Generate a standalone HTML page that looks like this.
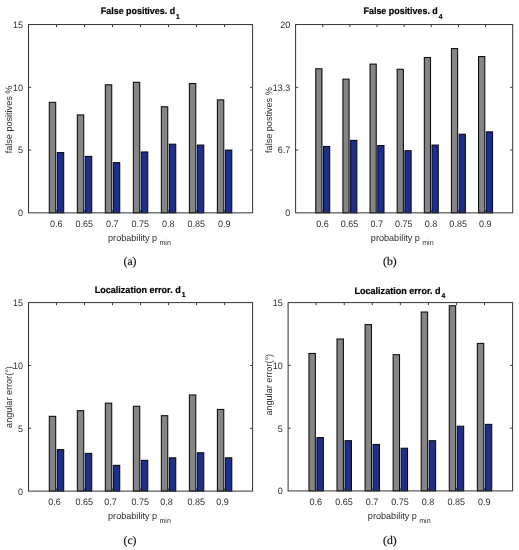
<!DOCTYPE html>
<html><head><meta charset="utf-8"><title>Figure</title>
<style>
html,body{margin:0;padding:0;background:#fff;}
svg{display:block;}
text{font-family:"Liberation Sans",sans-serif;fill:#2e2e2e;text-rendering:geometricPrecision;}
.tk{font-size:9.4px;}
.lb{font-size:9.4px;}
.sb{font-size:7.3px;}
.tt{font-size:9.4px;font-weight:bold;fill:#000;stroke:#000;stroke-width:0.2px;}
.ts{font-size:7.1px;font-weight:bold;}
.cp{font-family:"Liberation Serif",serif;font-size:11.7px;fill:#111;stroke:#111;stroke-width:0.18px;}
</style></head><body>
<svg width="519" height="550" viewBox="0 0 519 550">
<rect width="519" height="550" fill="#fff"/>
<g><rect x="49.31" y="102.38" width="6.40" height="110.47" fill="#858585" stroke="#0a0a0a" stroke-width="1.05"/>
<rect x="57.31" y="152.59" width="6.40" height="60.26" fill="#1a2e93" stroke="#0a0a0a" stroke-width="1.05"/>
<rect x="77.32" y="114.93" width="6.40" height="97.92" fill="#858585" stroke="#0a0a0a" stroke-width="1.05"/>
<rect x="85.33" y="156.36" width="6.40" height="56.49" fill="#1a2e93" stroke="#0a0a0a" stroke-width="1.05"/>
<rect x="105.33" y="84.81" width="6.40" height="128.04" fill="#858585" stroke="#0a0a0a" stroke-width="1.05"/>
<rect x="113.34" y="162.64" width="6.40" height="50.21" fill="#1a2e93" stroke="#0a0a0a" stroke-width="1.05"/>
<rect x="133.35" y="82.30" width="6.40" height="130.55" fill="#858585" stroke="#0a0a0a" stroke-width="1.05"/>
<rect x="141.35" y="151.97" width="6.40" height="60.88" fill="#1a2e93" stroke="#0a0a0a" stroke-width="1.05"/>
<rect x="161.36" y="106.77" width="6.40" height="106.08" fill="#858585" stroke="#0a0a0a" stroke-width="1.05"/>
<rect x="169.36" y="144.18" width="6.40" height="68.67" fill="#1a2e93" stroke="#0a0a0a" stroke-width="1.05"/>
<rect x="189.37" y="83.55" width="6.40" height="129.30" fill="#858585" stroke="#0a0a0a" stroke-width="1.05"/>
<rect x="197.38" y="145.06" width="6.40" height="67.79" fill="#1a2e93" stroke="#0a0a0a" stroke-width="1.05"/>
<rect x="217.38" y="99.87" width="6.40" height="112.98" fill="#858585" stroke="#0a0a0a" stroke-width="1.05"/>
<rect x="225.39" y="150.08" width="6.40" height="62.77" fill="#1a2e93" stroke="#0a0a0a" stroke-width="1.05"/>
<rect x="28.50" y="24.55" width="224.10" height="188.30" fill="none" stroke="#333" stroke-width="1.0"/>
<path d="M56.51 212.85v-2.6M56.51 24.55v2.6" stroke="#333" stroke-width="0.95"/>
<text transform="translate(56.21 226.85) scale(0.96 1)" text-anchor="middle" class="tk">0.6</text>
<path d="M84.53 212.85v-2.6M84.53 24.55v2.6" stroke="#333" stroke-width="0.95"/>
<text transform="translate(84.23 226.85) scale(0.96 1)" text-anchor="middle" class="tk">0.65</text>
<path d="M112.54 212.85v-2.6M112.54 24.55v2.6" stroke="#333" stroke-width="0.95"/>
<text transform="translate(112.24 226.85) scale(0.96 1)" text-anchor="middle" class="tk">0.7</text>
<path d="M140.55 212.85v-2.6M140.55 24.55v2.6" stroke="#333" stroke-width="0.95"/>
<text transform="translate(140.25 226.85) scale(0.96 1)" text-anchor="middle" class="tk">0.75</text>
<path d="M168.56 212.85v-2.6M168.56 24.55v2.6" stroke="#333" stroke-width="0.95"/>
<text transform="translate(168.26 226.85) scale(0.96 1)" text-anchor="middle" class="tk">0.8</text>
<path d="M196.57 212.85v-2.6M196.57 24.55v2.6" stroke="#333" stroke-width="0.95"/>
<text transform="translate(196.27 226.85) scale(0.96 1)" text-anchor="middle" class="tk">0.85</text>
<path d="M224.59 212.85v-2.6M224.59 24.55v2.6" stroke="#333" stroke-width="0.95"/>
<text transform="translate(224.29 226.85) scale(0.96 1)" text-anchor="middle" class="tk">0.9</text>
<text transform="translate(23.10 216.25) scale(0.96 1)" text-anchor="end" class="tk">0</text>
<path d="M28.50 150.08h2.6M252.60 150.08h-2.6" stroke="#333" stroke-width="0.95"/>
<text transform="translate(23.10 153.48) scale(0.96 1)" text-anchor="end" class="tk">5</text>
<path d="M28.50 87.32h2.6M252.60 87.32h-2.6" stroke="#333" stroke-width="0.95"/>
<text transform="translate(23.10 90.72) scale(0.96 1)" text-anchor="end" class="tk">10</text>
<text transform="translate(23.10 27.95) scale(0.96 1)" text-anchor="end" class="tk">15</text>
<text transform="translate(108.05 240.65) scale(0.97 1)" class="lb">probability p<tspan dx="2.4" dy="4.2" class="sb">min</tspan></text>
<text transform="translate(11.90 119.50) rotate(-90) scale(0.97 1)" text-anchor="middle" class="lb">false positives %</text>
<text transform="translate(100.85 14.45) scale(0.95 1)" class="tt">False positives. d<tspan dx="1.0" dy="4.6" class="ts">1</tspan></text>
<text x="130.00" y="265.45" text-anchor="middle" class="cp">(a)</text></g>
<g><rect x="315.76" y="68.80" width="6.20" height="144.05" fill="#858585" stroke="#0a0a0a" stroke-width="1.05"/>
<rect x="323.51" y="146.47" width="6.20" height="66.38" fill="#1a2e93" stroke="#0a0a0a" stroke-width="1.05"/>
<rect x="342.90" y="79.16" width="6.20" height="133.69" fill="#858585" stroke="#0a0a0a" stroke-width="1.05"/>
<rect x="350.65" y="140.35" width="6.20" height="72.50" fill="#1a2e93" stroke="#0a0a0a" stroke-width="1.05"/>
<rect x="370.03" y="64.09" width="6.20" height="148.76" fill="#858585" stroke="#0a0a0a" stroke-width="1.05"/>
<rect x="377.79" y="145.53" width="6.20" height="67.32" fill="#1a2e93" stroke="#0a0a0a" stroke-width="1.05"/>
<rect x="397.17" y="69.27" width="6.20" height="143.58" fill="#858585" stroke="#0a0a0a" stroke-width="1.05"/>
<rect x="404.93" y="150.71" width="6.20" height="62.14" fill="#1a2e93" stroke="#0a0a0a" stroke-width="1.05"/>
<rect x="424.31" y="57.50" width="6.20" height="155.35" fill="#858585" stroke="#0a0a0a" stroke-width="1.05"/>
<rect x="432.06" y="145.06" width="6.20" height="67.79" fill="#1a2e93" stroke="#0a0a0a" stroke-width="1.05"/>
<rect x="451.45" y="48.56" width="6.20" height="164.29" fill="#858585" stroke="#0a0a0a" stroke-width="1.05"/>
<rect x="459.20" y="134.23" width="6.20" height="78.62" fill="#1a2e93" stroke="#0a0a0a" stroke-width="1.05"/>
<rect x="478.58" y="56.56" width="6.20" height="156.29" fill="#858585" stroke="#0a0a0a" stroke-width="1.05"/>
<rect x="486.34" y="131.88" width="6.20" height="80.97" fill="#1a2e93" stroke="#0a0a0a" stroke-width="1.05"/>
<rect x="295.60" y="24.55" width="217.10" height="188.30" fill="none" stroke="#333" stroke-width="1.0"/>
<path d="M322.74 212.85v-2.6M322.74 24.55v2.6" stroke="#333" stroke-width="0.95"/>
<text transform="translate(322.44 226.85) scale(0.96 1)" text-anchor="middle" class="tk">0.6</text>
<path d="M349.88 212.85v-2.6M349.88 24.55v2.6" stroke="#333" stroke-width="0.95"/>
<text transform="translate(349.57 226.85) scale(0.96 1)" text-anchor="middle" class="tk">0.65</text>
<path d="M377.01 212.85v-2.6M377.01 24.55v2.6" stroke="#333" stroke-width="0.95"/>
<text transform="translate(376.71 226.85) scale(0.96 1)" text-anchor="middle" class="tk">0.7</text>
<path d="M404.15 212.85v-2.6M404.15 24.55v2.6" stroke="#333" stroke-width="0.95"/>
<text transform="translate(403.85 226.85) scale(0.96 1)" text-anchor="middle" class="tk">0.75</text>
<path d="M431.29 212.85v-2.6M431.29 24.55v2.6" stroke="#333" stroke-width="0.95"/>
<text transform="translate(430.99 226.85) scale(0.96 1)" text-anchor="middle" class="tk">0.8</text>
<path d="M458.43 212.85v-2.6M458.43 24.55v2.6" stroke="#333" stroke-width="0.95"/>
<text transform="translate(458.13 226.85) scale(0.96 1)" text-anchor="middle" class="tk">0.85</text>
<path d="M485.56 212.85v-2.6M485.56 24.55v2.6" stroke="#333" stroke-width="0.95"/>
<text transform="translate(485.26 226.85) scale(0.96 1)" text-anchor="middle" class="tk">0.9</text>
<text transform="translate(290.20 216.25) scale(0.96 1)" text-anchor="end" class="tk">0</text>
<path d="M295.60 150.08h2.6M512.70 150.08h-2.6" stroke="#333" stroke-width="0.95"/>
<text transform="translate(290.20 153.48) scale(0.96 1)" text-anchor="end" class="tk">6.7</text>
<path d="M295.60 87.32h2.6M512.70 87.32h-2.6" stroke="#333" stroke-width="0.95"/>
<text transform="translate(290.20 90.72) scale(0.96 1)" text-anchor="end" class="tk">13.3</text>
<text transform="translate(290.20 27.95) scale(0.96 1)" text-anchor="end" class="tk">20</text>
<text transform="translate(370.85 240.65) scale(0.97 1)" class="lb">probability p<tspan dx="2.4" dy="4.2" class="sb">min</tspan></text>
<text transform="translate(271.90 120.10) rotate(-90) scale(0.97 1)" text-anchor="middle" class="lb">false postives %</text>
<text transform="translate(363.55 14.45) scale(0.95 1)" class="tt">False positives. d<tspan dx="1.0" dy="4.6" class="ts">4</tspan></text>
<text x="389.90" y="265.45" text-anchor="middle" class="cp">(b)</text></g>
<g><rect x="49.31" y="416.33" width="6.40" height="74.77" fill="#858585" stroke="#0a0a0a" stroke-width="1.05"/>
<rect x="57.31" y="449.63" width="6.40" height="41.47" fill="#1a2e93" stroke="#0a0a0a" stroke-width="1.05"/>
<rect x="77.32" y="410.67" width="6.40" height="80.43" fill="#858585" stroke="#0a0a0a" stroke-width="1.05"/>
<rect x="85.33" y="453.40" width="6.40" height="37.70" fill="#1a2e93" stroke="#0a0a0a" stroke-width="1.05"/>
<rect x="105.33" y="403.13" width="6.40" height="87.97" fill="#858585" stroke="#0a0a0a" stroke-width="1.05"/>
<rect x="113.34" y="465.34" width="6.40" height="25.76" fill="#1a2e93" stroke="#0a0a0a" stroke-width="1.05"/>
<rect x="133.35" y="406.28" width="6.40" height="84.83" fill="#858585" stroke="#0a0a0a" stroke-width="1.05"/>
<rect x="141.35" y="460.31" width="6.40" height="30.79" fill="#1a2e93" stroke="#0a0a0a" stroke-width="1.05"/>
<rect x="161.36" y="415.70" width="6.40" height="75.40" fill="#858585" stroke="#0a0a0a" stroke-width="1.05"/>
<rect x="169.36" y="457.80" width="6.40" height="33.30" fill="#1a2e93" stroke="#0a0a0a" stroke-width="1.05"/>
<rect x="189.37" y="394.97" width="6.40" height="96.14" fill="#858585" stroke="#0a0a0a" stroke-width="1.05"/>
<rect x="197.38" y="452.77" width="6.40" height="38.33" fill="#1a2e93" stroke="#0a0a0a" stroke-width="1.05"/>
<rect x="217.38" y="409.42" width="6.40" height="81.68" fill="#858585" stroke="#0a0a0a" stroke-width="1.05"/>
<rect x="225.39" y="457.80" width="6.40" height="33.30" fill="#1a2e93" stroke="#0a0a0a" stroke-width="1.05"/>
<rect x="28.50" y="302.60" width="224.10" height="188.50" fill="none" stroke="#333" stroke-width="1.0"/>
<path d="M56.51 491.10v-2.6M56.51 302.60v2.6" stroke="#333" stroke-width="0.95"/>
<text transform="translate(54.51 505.10) scale(0.96 1)" text-anchor="middle" class="tk">0.6</text>
<path d="M84.53 491.10v-2.6M84.53 302.60v2.6" stroke="#333" stroke-width="0.95"/>
<text transform="translate(84.23 505.10) scale(0.96 1)" text-anchor="middle" class="tk">0.65</text>
<path d="M112.54 491.10v-2.6M112.54 302.60v2.6" stroke="#333" stroke-width="0.95"/>
<text transform="translate(110.54 505.10) scale(0.96 1)" text-anchor="middle" class="tk">0.7</text>
<path d="M140.55 491.10v-2.6M140.55 302.60v2.6" stroke="#333" stroke-width="0.95"/>
<text transform="translate(140.25 505.10) scale(0.96 1)" text-anchor="middle" class="tk">0.75</text>
<path d="M168.56 491.10v-2.6M168.56 302.60v2.6" stroke="#333" stroke-width="0.95"/>
<text transform="translate(166.56 505.10) scale(0.96 1)" text-anchor="middle" class="tk">0.8</text>
<path d="M196.57 491.10v-2.6M196.57 302.60v2.6" stroke="#333" stroke-width="0.95"/>
<text transform="translate(196.27 505.10) scale(0.96 1)" text-anchor="middle" class="tk">0.85</text>
<path d="M224.59 491.10v-2.6M224.59 302.60v2.6" stroke="#333" stroke-width="0.95"/>
<text transform="translate(222.59 505.10) scale(0.96 1)" text-anchor="middle" class="tk">0.9</text>
<text transform="translate(23.10 494.50) scale(0.96 1)" text-anchor="end" class="tk">0</text>
<path d="M28.50 428.27h2.6M252.60 428.27h-2.6" stroke="#333" stroke-width="0.95"/>
<text transform="translate(23.10 431.67) scale(0.96 1)" text-anchor="end" class="tk">5</text>
<path d="M28.50 365.43h2.6M252.60 365.43h-2.6" stroke="#333" stroke-width="0.95"/>
<text transform="translate(23.10 368.83) scale(0.96 1)" text-anchor="end" class="tk">10</text>
<text transform="translate(23.10 306.00) scale(0.96 1)" text-anchor="end" class="tk">15</text>
<text transform="translate(108.05 518.90) scale(0.97 1)" class="lb">probability p<tspan dx="2.4" dy="4.2" class="sb">min</tspan></text>
<text transform="translate(12.00 397.05) rotate(-90) scale(0.97 1)" text-anchor="middle" class="lb">angular error(°)</text>
<text transform="translate(94.65 292.50) scale(0.966 1)" class="tt">Localization error. d<tspan dx="1.0" dy="4.6" class="ts">1</tspan></text>
<text x="130.00" y="543.70" text-anchor="middle" class="cp">(c)</text></g>
<g><rect x="308.95" y="353.44" width="6.41" height="137.46" fill="#858585" stroke="#0a0a0a" stroke-width="1.05"/>
<rect x="316.96" y="437.55" width="6.41" height="53.35" fill="#1a2e93" stroke="#0a0a0a" stroke-width="1.05"/>
<rect x="337.01" y="339.00" width="6.41" height="151.90" fill="#858585" stroke="#0a0a0a" stroke-width="1.05"/>
<rect x="345.03" y="440.69" width="6.41" height="50.21" fill="#1a2e93" stroke="#0a0a0a" stroke-width="1.05"/>
<rect x="365.07" y="324.57" width="6.41" height="166.33" fill="#858585" stroke="#0a0a0a" stroke-width="1.05"/>
<rect x="373.09" y="444.45" width="6.41" height="46.45" fill="#1a2e93" stroke="#0a0a0a" stroke-width="1.05"/>
<rect x="393.13" y="354.70" width="6.41" height="136.20" fill="#858585" stroke="#0a0a0a" stroke-width="1.05"/>
<rect x="401.15" y="448.22" width="6.41" height="42.68" fill="#1a2e93" stroke="#0a0a0a" stroke-width="1.05"/>
<rect x="421.20" y="312.01" width="6.41" height="178.88" fill="#858585" stroke="#0a0a0a" stroke-width="1.05"/>
<rect x="429.21" y="440.69" width="6.41" height="50.21" fill="#1a2e93" stroke="#0a0a0a" stroke-width="1.05"/>
<rect x="449.26" y="305.74" width="6.41" height="185.16" fill="#858585" stroke="#0a0a0a" stroke-width="1.05"/>
<rect x="457.28" y="426.25" width="6.41" height="64.65" fill="#1a2e93" stroke="#0a0a0a" stroke-width="1.05"/>
<rect x="477.32" y="343.40" width="6.41" height="147.50" fill="#858585" stroke="#0a0a0a" stroke-width="1.05"/>
<rect x="485.34" y="424.37" width="6.41" height="66.53" fill="#1a2e93" stroke="#0a0a0a" stroke-width="1.05"/>
<rect x="288.10" y="302.60" width="224.50" height="188.30" fill="none" stroke="#333" stroke-width="1.0"/>
<path d="M316.16 490.90v-2.6M316.16 302.60v2.6" stroke="#333" stroke-width="0.95"/>
<text transform="translate(315.86 504.90) scale(0.96 1)" text-anchor="middle" class="tk">0.6</text>
<path d="M344.23 490.90v-2.6M344.23 302.60v2.6" stroke="#333" stroke-width="0.95"/>
<text transform="translate(343.93 504.90) scale(0.96 1)" text-anchor="middle" class="tk">0.65</text>
<path d="M372.29 490.90v-2.6M372.29 302.60v2.6" stroke="#333" stroke-width="0.95"/>
<text transform="translate(371.99 504.90) scale(0.96 1)" text-anchor="middle" class="tk">0.7</text>
<path d="M400.35 490.90v-2.6M400.35 302.60v2.6" stroke="#333" stroke-width="0.95"/>
<text transform="translate(400.05 504.90) scale(0.96 1)" text-anchor="middle" class="tk">0.75</text>
<path d="M428.41 490.90v-2.6M428.41 302.60v2.6" stroke="#333" stroke-width="0.95"/>
<text transform="translate(428.11 504.90) scale(0.96 1)" text-anchor="middle" class="tk">0.8</text>
<path d="M456.48 490.90v-2.6M456.48 302.60v2.6" stroke="#333" stroke-width="0.95"/>
<text transform="translate(456.18 504.90) scale(0.96 1)" text-anchor="middle" class="tk">0.85</text>
<path d="M484.54 490.90v-2.6M484.54 302.60v2.6" stroke="#333" stroke-width="0.95"/>
<text transform="translate(484.24 504.90) scale(0.96 1)" text-anchor="middle" class="tk">0.9</text>
<text transform="translate(282.70 494.30) scale(0.96 1)" text-anchor="end" class="tk">0</text>
<path d="M288.10 428.13h2.6M512.60 428.13h-2.6" stroke="#333" stroke-width="0.95"/>
<text transform="translate(282.70 431.53) scale(0.96 1)" text-anchor="end" class="tk">5</text>
<path d="M288.10 365.37h2.6M512.60 365.37h-2.6" stroke="#333" stroke-width="0.95"/>
<text transform="translate(282.70 368.77) scale(0.96 1)" text-anchor="end" class="tk">10</text>
<text transform="translate(282.70 306.00) scale(0.96 1)" text-anchor="end" class="tk">15</text>
<text transform="translate(367.85 518.70) scale(0.97 1)" class="lb">probability p<tspan dx="2.4" dy="4.2" class="sb">min</tspan></text>
<text transform="translate(271.70 384.75) rotate(-90) scale(0.97 1)" text-anchor="middle" class="lb">angular error(°)</text>
<text transform="translate(354.45 293.70) scale(0.966 1)" class="tt">Localization error. d<tspan dx="1.0" dy="4.6" class="ts">4</tspan></text>
<text x="389.90" y="543.50" text-anchor="middle" class="cp">(d)</text></g>
</svg>
</body></html>
